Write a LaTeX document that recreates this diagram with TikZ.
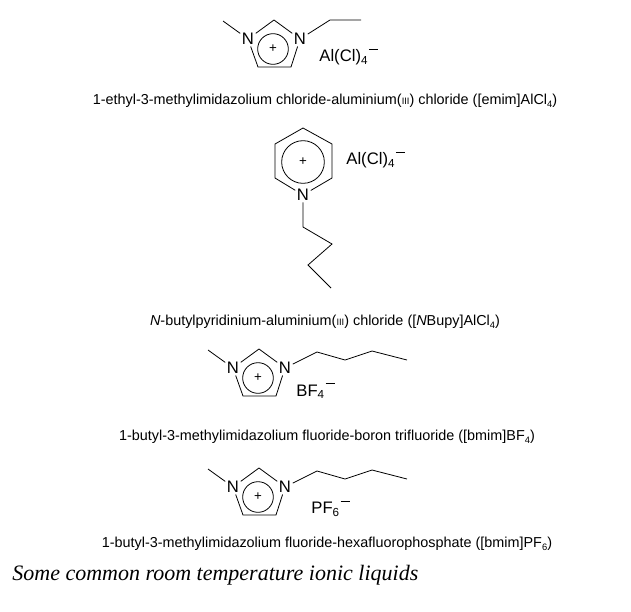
\documentclass[tikz,border=0pt]{standalone}
\usepackage{fontspec}
\setmainfont{Liberation Sans}
\newfontfamily\capfont{Liberation Serif}
\newcommand{\subm}[1]{\textsubscript{#1}\kern0.5pt\raisebox{0.7em}{\rule{0.55em}{0.7pt}}}
\newcommand{\sbx}[1]{\raisebox{-0.3ex}{\scriptsize #1}}
\begin{document}
\begin{tikzpicture}[x=0.75pt,y=-0.75pt,line width=0.6pt,
  atom/.style={inner sep=1pt,font=\fontsize{12.5}{13}\selectfont},
  lbl/.style={inner sep=0pt,font=\fontsize{10.8}{12}\selectfont},
  ion/.style={inner sep=0pt,anchor=west,font=\fontsize{12.5}{13}\selectfont},
  pt/.style={inner sep=0pt,minimum size=0pt}]
\useasboundingbox (0,0) rectangle (631,611);
\newcommand{\imring}[3]{%
 \node[atom] (#1NL) at (#2,#3) {N};
 \node[atom] (#1NR) at (#2+52,#3) {N};
 \coordinate (#1C2) at (#2+26,#3-19);
 \coordinate (#1C4) at (#2+10,#3+28);
 \coordinate (#1C5) at (#2+43,#3+28);
 \coordinate (#1Me) at (#2-25,#3-18);
 \draw (#1NL) -- (#1C2) -- (#1NR) -- (#1C5) -- (#1C4) -- (#1NL) -- (#1Me);
 \node[draw,circle,minimum size=23,inner sep=0pt,font=\fontsize{10}{10}\selectfont] (#1ch) at (#2+25,#3+10) {+};
}
\imring{a}{248}{39}
\coordinate (a1) at (330,20); \coordinate (a2) at (361,20);
\draw (aNR) -- (a1) -- (a2);
\node[ion] (aion) at (319,57) {Al(Cl)\subm{4}};
\node[lbl] (l1) at (325,101) {1-ethyl-3-methylimidazolium chloride-aluminium({\scriptsize III}) chloride ([emim]AlCl\sbx{4})};
\coordinate (p1) at (303,128); \coordinate (p2) at (275,144); \coordinate (p3) at (275,178);
\node[atom] (pN) at (303,195) {N};
\coordinate (p5) at (332,178); \coordinate (p6) at (332,144);
\draw (pN) -- (p3) -- (p2) -- (p1) -- (p6) -- (p5) -- (pN);
\node[draw,circle,minimum size=32,inner sep=0pt,font=\fontsize{10}{10}\selectfont] (pch) at (303,162) {+};
\coordinate (b1) at (303,227); \coordinate (b2) at (332,244); \coordinate (b3) at (308,265); \coordinate (b4) at (331,288);
\draw (pN) -- (b1) -- (b2) -- (b3) -- (b4);
\node[ion] (pion) at (346,160) {Al(Cl)\subm{4}};
\node[lbl] (l2) at (325,322) {\textit{N}-butylpyridinium-aluminium({\scriptsize III}) chloride ([\textit{N}Bupy]AlCl\sbx{4})};
\imring{c}{233}{368}
\coordinate (c1) at (317,352); \coordinate (c2) at (345,360); \coordinate (c3) at (372,351); \coordinate (c4) at (407,360);
\draw (cNR) -- (c1) -- (c2) -- (c3) -- (c4);
\node[ion] (cion) at (296,391) {BF\subm{4}};
\node[lbl] (l3) at (327,437) {1-butyl-3-methylimidazolium fluoride-boron trifluoride ([bmim]BF\sbx{4})};
\imring{d}{233}{487}
\coordinate (d1) at (317,471); \coordinate (d2) at (345,479); \coordinate (d3) at (372,470); \coordinate (d4) at (407,479);
\draw (dNR) -- (d1) -- (d2) -- (d3) -- (d4);
\node[ion] (dion) at (311,509) {PF\subm{6}};
\node[lbl] (l4) at (327,544) {1-butyl-3-methylimidazolium fluoride-hexafluorophosphate ([bmim]PF\sbx{6})};
\node[inner sep=0pt,anchor=west,font=\capfont\itshape\fontsize{16.5}{18}\selectfont] (cap) at (12,575) {Some common room temperature ionic liquids};
\end{tikzpicture}
\end{document}
